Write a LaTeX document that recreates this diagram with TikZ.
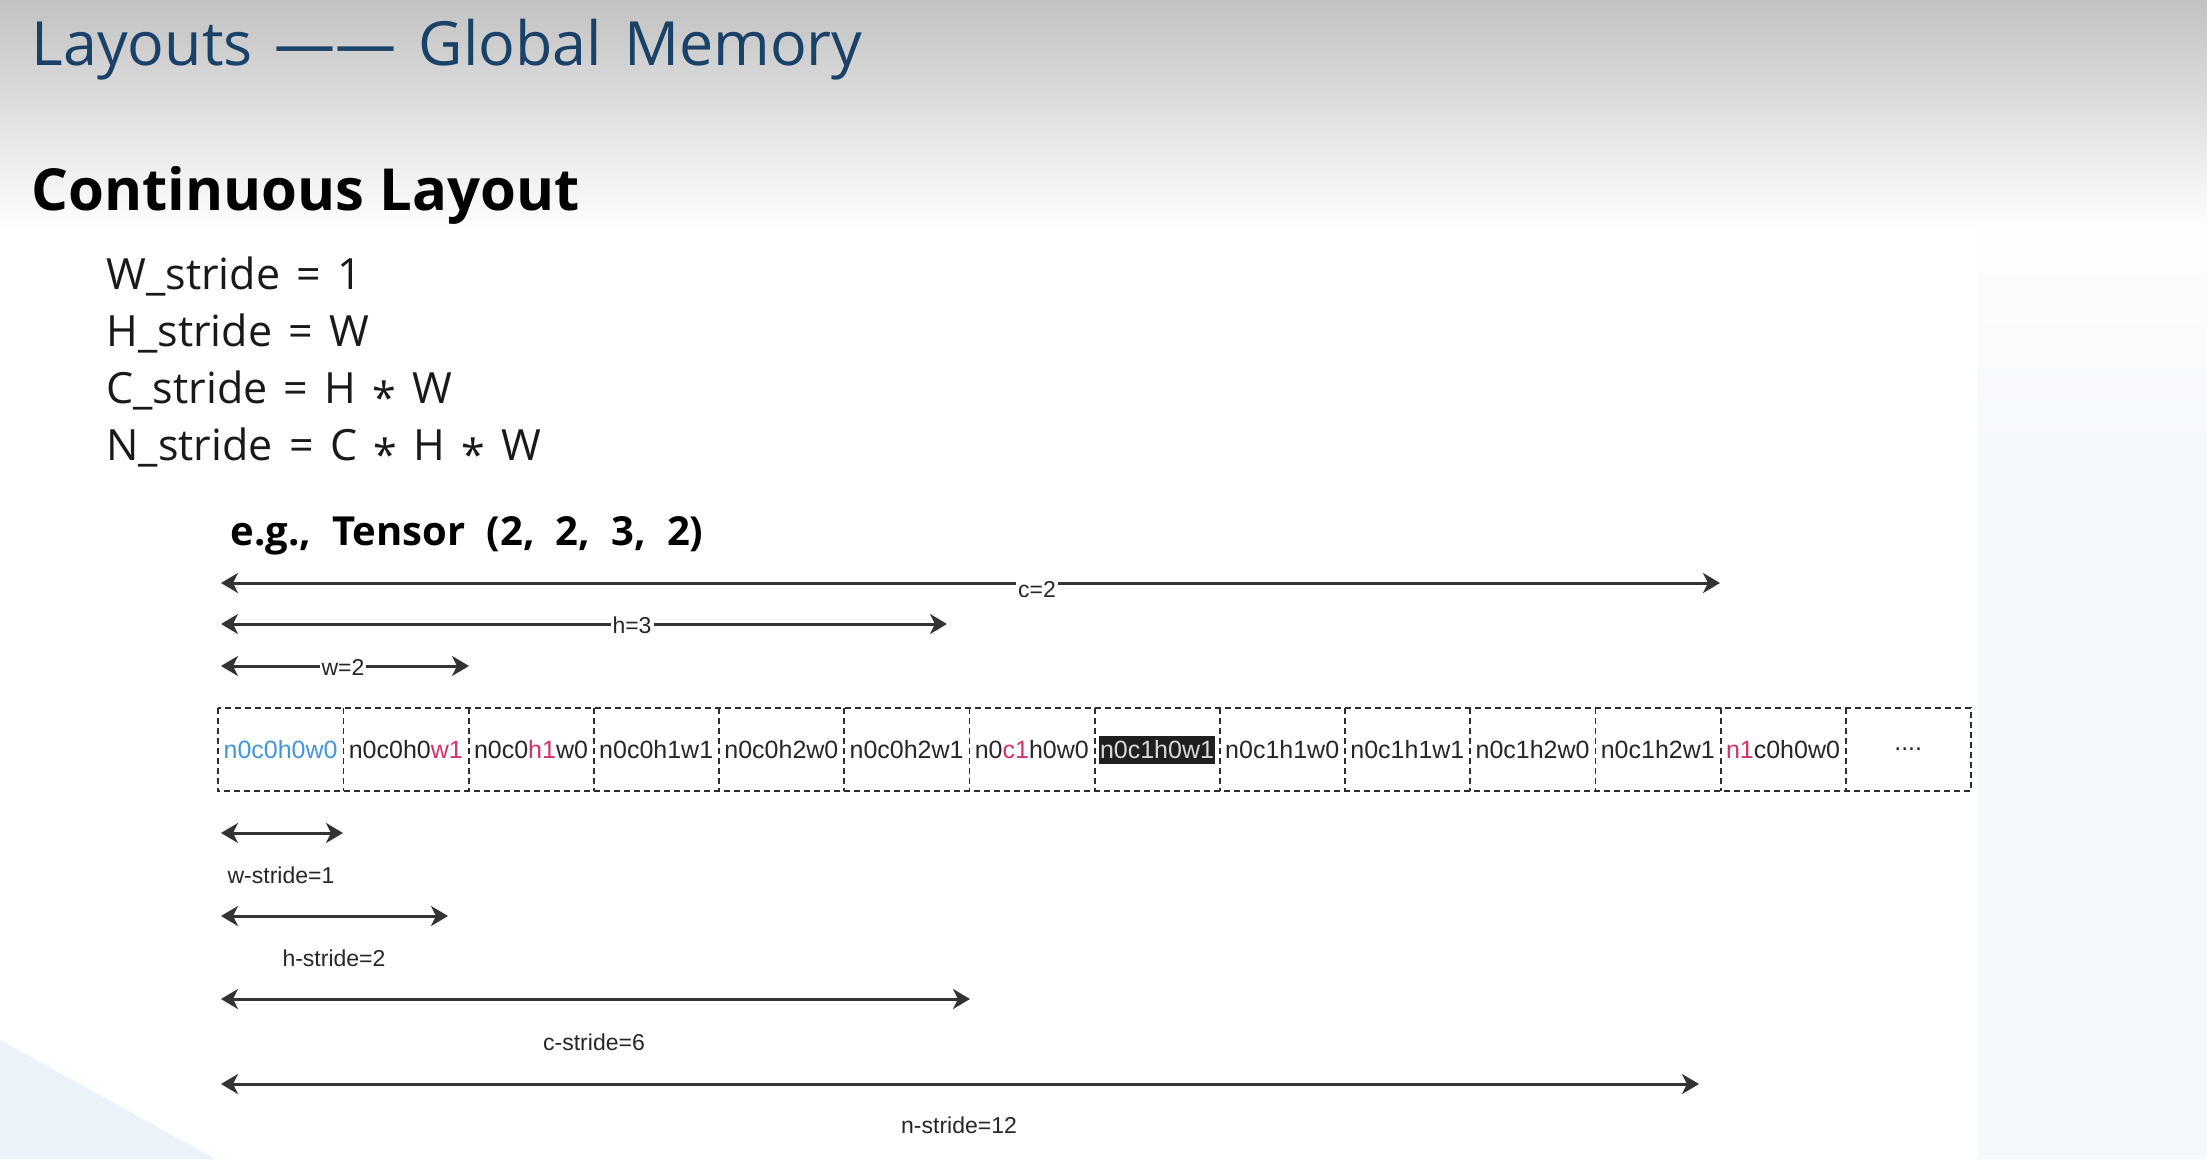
\documentclass[tikz,border=0pt]{standalone}
\usepackage{fontspec}
\setmainfont{Open Sans}
\newfontfamily\arialfont{Liberation Sans}
\usetikzlibrary{arrows.meta,positioning}
\definecolor{titleblue}{RGB}{26,66,104}
\definecolor{idxblue}{RGB}{66,150,220}
\definecolor{idxred}{RGB}{212,48,110}
\definecolor{linegray}{RGB}{45,45,45}
\definecolor{sidetint}{RGB}{246,249,252}
\definecolor{decoblue}{RGB}{234,242,250}
\newcommand\midast{\raisebox{-0.25em}{*}}
\newcommand\titlefont{\fontsize{61}{70}\selectfont\spaceskip=0.36em\relax}
\newcommand\formulafont{\fontsize{43}{50}\selectfont\spaceskip=0.38em\relax}
\newcommand\examplefont{\bfseries\fontsize{40}{48}\selectfont\spaceskip=0.53em\relax}
\tikzset{
  cell/.style={minimum width=125.2pt, minimum height=83pt, inner sep=0pt,
    font=\arialfont\fontsize{25}{28}\selectfont, text=black!85},
  celledge/.style={draw=linegray, dash pattern=on 6pt off 4pt, line width=1.8pt},
  hlbox/.style={fill=black!88, text=white!85!black, inner xsep=1pt, inner ysep=0pt,
    minimum height=28pt, font=\arialfont\fontsize{25}{28}\selectfont},
  dimarrow/.style={line width=3pt, draw=black!80,
    {Stealth[length=17pt,width=20pt,inset=5pt]}-{Stealth[length=17pt,width=20pt,inset=5pt]}},
  dimlabel/.style={font=\arialfont\fontsize{23}{26}\selectfont, text=black!85, inner sep=2pt},
  formula/.style={anchor=base west, font=\formulafont, text=black!90},
}
\begin{document}
\begin{tikzpicture}[x=1pt,y=-1pt]
	\useasboundingbox (0,0) rectangle (2207,1159);
	% slide background
	\fill[white] (0,0) rectangle (2207,1159);
	\shade[top color=white, bottom color=sidetint] (1978,150) rectangle (2207,450);
	\fill[sidetint] (1978,450) rectangle (2207,1159);
	\shade[top color=black!24, bottom color=white] (0,0) rectangle (2207,230);
	\fill[decoblue] (0,1040) -- (215,1159) -- (0,1159) -- cycle;

	% headings and strides
	\node[anchor=base west, text=titleblue, font=\titlefont] (title) at (28,65) {Layouts —— Global Memory};
	\node[anchor=base west, font=\bfseries\fontsize{58}{70}\selectfont] (subtitle) at (28,210) {Continuous Layout};
	\node[formula] (wstr) at (103,289) {W\_stride = 1};
	\node[formula] (hstr) at (103,346) {H\_stride = W};
	\node[formula] (cstr) at (103,403) {C\_stride = H \midast{} W};
	\node[formula] (nstr) at (103,460) {N\_stride = C \midast{} H \midast{} W};
	\node[anchor=base west, font=\examplefont] (example) at (227,545) {e.g., Tensor (2, 2, 3, 2)};

	% memory cells
	\foreach [count=\i from 0] \txt in {{\textcolor{idxblue}{n0c0h0w0}}, {n0c0h0\textcolor{idxred}{w1}},
		{n0c0\textcolor{idxred}{h1}w0}, n0c0h1w1, n0c0h2w0, n0c0h2w1, {n0\textcolor{idxred}{c1}h0w0}, {},
		n0c1h1w0, n0c1h1w1, n0c1h2w0, n0c1h2w1, {\textcolor{idxred}{n1}c0h0w0}, {\mbox{....}}}
		\node[cell] (cell\i) at (280.6+125.2*\i,749.5) {\txt};
	\node[hlbox] (hl) at (cell7) {n0c1h0w1};
	\draw[celledge] (cell0.north west) rectangle (cell13.south east);
	\foreach \i in {0,...,12}
		\draw[celledge] (cell\i.north east) -- (cell\i.south east);

	% extents
	\coordinate (cL) at (221,583);   \coordinate (cR) at (1720,583);
	\coordinate (hL) at (221,624);   \coordinate (hR) at (947,624);
	\coordinate (wL) at (221,666);   \coordinate (wR) at (469,666);
	\draw[dimarrow] (cL) -- (cR);
	\draw[dimarrow] (hL) -- (hR);
	\draw[dimarrow] (wL) -- (wR);
	\node[dimlabel, fill=white] (clab) at (1037,590) {c=2};
	\node[dimlabel, fill=white] (hlab) at (632,625) {h=3};
	\node[dimlabel, fill=white] (wlab) at (343,667) {w=2};

	% strides
	\coordinate (wsL) at (221,833);  \coordinate (wsR) at (343,833);
	\coordinate (hsL) at (221,916);  \coordinate (hsR) at (448,916);
	\coordinate (csL) at (221,999);  \coordinate (csR) at (970,999);
	\coordinate (nsL) at (221,1084); \coordinate (nsR) at (1699,1084);
	\draw[dimarrow] (wsL) -- (wsR);
	\draw[dimarrow] (hsL) -- (hsR);
	\draw[dimarrow] (csL) -- (csR);
	\draw[dimarrow] (nsL) -- (nsR);
	\node[dimlabel] (wslab) at (281,875) {w-stride=1};
	\node[dimlabel] (hslab) at (334,958) {h-stride=2};
	\node[dimlabel] (cslab) at (594,1042) {c-stride=6};
	\node[dimlabel] (nslab) at (959,1125) {n-stride=12};
\end{tikzpicture}
\end{document}
